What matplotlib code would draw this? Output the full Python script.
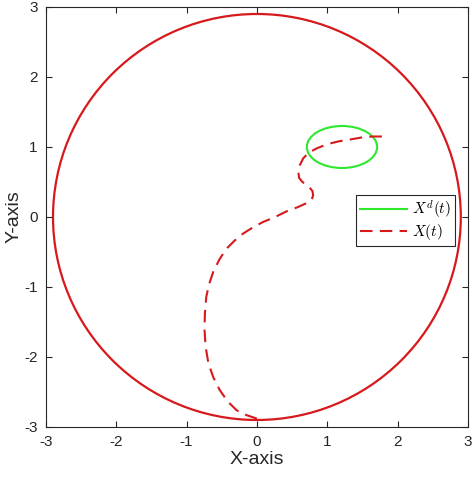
import matplotlib
matplotlib.use("Agg")
import matplotlib.pyplot as plt
from matplotlib.patches import Ellipse, Circle
from matplotlib.lines import Line2D

# desired trajectory X^d(t): ellipse
ell_center = (1.21, 1.0)
ell_width = 1.0
ell_height = 0.6

# outer boundary circle
circ_center = (0.0, 0.0)
circ_radius = 2.9

traj_x = [0.0, -0.15, -0.29, -0.42, -0.53, -0.62, -0.69, -0.73, -0.745, -0.74,
          -0.72, -0.68, -0.62, -0.53, -0.43, -0.32, -0.2, -0.06, 0.09, 0.26,
          0.42, 0.58, 0.71, 0.78, 0.80, 0.79, 0.75, 0.68, 0.63, 0.60, 0.59,
          0.61, 0.66, 0.74, 0.85, 0.95, 1.04, 1.16, 1.28, 1.40, 1.51, 1.65, 1.80]
traj_y = [-2.88, -2.83, -2.76, -2.63, -2.47, -2.29, -2.09, -1.85, -1.61, -1.38,
          -1.14, -0.96, -0.78, -0.60, -0.45, -0.34, -0.24, -0.15, -0.07, 0.0,
          0.08, 0.14, 0.2, 0.25, 0.31, 0.37, 0.42, 0.47, 0.52, 0.56, 0.64,
          0.74, 0.84, 0.92, 0.98, 1.02, 1.05, 1.08, 1.10, 1.12, 1.14, 1.15, 1.15]

ticks = [-3, -2, -1, 0, 1, 2, 3]

plt.rcParams['font.family'] = ['Liberation Sans', 'DejaVu Sans']
plt.rcParams['mathtext.fontset'] = 'cm'

red = '#d7191c'
green = '#2ee82e'
dash = (0, (6, 3.5))

fig = plt.figure(figsize=(4.74, 4.79), dpi=100)
ax = fig.add_axes([0.097, 0.1086, 0.89, 0.8768])

ax.add_patch(Circle(circ_center, circ_radius, fill=False, color=red, lw=1.6))
ax.add_patch(Ellipse(ell_center, ell_width, ell_height, fill=False, color=green, lw=1.5))
ax.plot(traj_x, traj_y, color=red, lw=1.5, ls=dash)

ax.set_xlim(-3, 3)
ax.set_ylim(-3, 3)
ax.set_xticks(ticks)
ax.set_yticks(ticks)
ax.set_xticklabels([str(t) for t in ticks])
ax.set_yticklabels([str(t) for t in ticks])
ax.tick_params(direction='in', top=True, right=True, length=4, width=0.8,
               labelsize=11, colors='#262626', pad=6)
for s in ax.spines.values():
    s.set_color('#262626')
    s.set_linewidth(0.8)

ax.set_xlabel('X-axis', fontsize=14, color='#262626', labelpad=1)
ax.set_ylabel('Y-axis', fontsize=14, color='#262626', labelpad=1)

handles = [Line2D([], [], color=green, lw=1.5),
           Line2D([], [], color=red, lw=1.5, ls=dash)]
leg = ax.legend(handles, ['$X^d(t)$', '$X(t)$'], loc='upper left',
                bbox_to_anchor=(0.735, 0.553), fontsize=11, fancybox=False,
                framealpha=1, edgecolor='#262626', borderpad=0.25,
                handlelength=3.1, handletextpad=0.3, labelspacing=0.1,
                borderaxespad=0)
leg.get_frame().set_linewidth(0.8)

fig.savefig('out.png', dpi=100)
